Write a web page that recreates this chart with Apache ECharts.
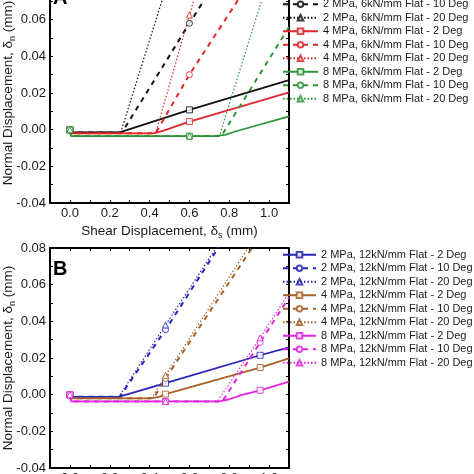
<!DOCTYPE html>
<html>
<head>
<meta charset="utf-8">
<script src="https://cdn.jsdelivr.net/npm/echarts@6/dist/echarts.min.js"></script>
<style>
  html, body { margin: 0; padding: 0; background: #fff; }
  #chart { width: 474px; height: 474px; }
</style>
</head>
<body>
<div id="chart"></div>
<script>
// tick values / labels
const xLabelVals = [0, 0.2, 0.4, 0.6, 0.8, 1.0]
const xTickVals = [0, 0.1, 0.2, 0.3, 0.4, 0.5, 0.6, 0.7, 0.8, 0.9, 1.0]
const yLabelVals = [-0.04, -0.02, 0, 0.02, 0.04, 0.06, 0.08]
const yTickVals = [-0.04, -0.03, -0.02, -0.01, 0, 0.01, 0.02, 0.03, 0.04, 0.05, 0.06, 0.07, 0.08]

// where the open markers sit (shear displacement, mm)
const markXA = [0, 0.6]
const markXB = [0, 0.48, 0.955]

// panel A : 6 kN/mm
const namesA = [
  '2 MPa, 6kN/mm Flat - 2 Deg', '2 MPa, 6kN/mm Flat - 10 Deg', '2 MPa, 6kN/mm Flat - 20 Deg',
  '4 MPa, 6kN/mm Flat - 2 Deg', '4 MPa, 6kN/mm Flat - 10 Deg', '4 MPa, 6kN/mm Flat - 20 Deg',
  '8 MPa, 6kN/mm Flat - 2 Deg', '8 MPa, 6kN/mm Flat - 10 Deg', '8 MPa, 6kN/mm Flat - 20 Deg'
]
const a2_2 = [[0, 0], [0.005, -0.0015], [0.25, -0.0015], [0.6, 0.0108], [1.1, 0.027]]
const a2_10 = [[0, 0], [0.005, -0.0015], [0.26, -0.0015], [0.27, 0.0], [0.6, 0.058], [0.728, 0.08]]
const a2_20 = [[0, 0], [0.005, -0.0015], [0.255, -0.0015], [0.49, 0.08]]
const a4_2 = [[0, 0], [0.005, -0.002], [0.42, -0.002], [0.47, -0.0005], [0.6, 0.0044], [1.1, 0.0204]]
const a4_10 = [[0, 0], [0.005, -0.002], [0.43, -0.002], [0.6, 0.030], [0.9, 0.08]]
const a4_20 = [[0, 0], [0.005, -0.002], [0.43, -0.002], [0.6, 0.0625], [0.647, 0.08]]
const a8_2 = [[0, 0], [0.005, -0.0035], [0.6, -0.0035], [0.72, -0.0035], [0.78, -0.0028], [0.83, -0.001], [1.1, 0.0072]]
const a8_10 = [[0, 0], [0.005, -0.0035], [0.6, -0.0035], [0.76, -0.0035], [1.1, 0.056]]
const a8_20 = [[0, 0], [0.005, -0.0035], [0.6, -0.0035], [0.75, -0.0035], [0.99, 0.08]]

// panel B : 12 kN/mm
const namesB = [
  '2 MPa, 12kN/mm Flat - 2 Deg', '2 MPa, 12kN/mm Flat - 10 Deg', '2 MPa, 12kN/mm Flat - 20 Deg',
  '4 MPa, 12kN/mm Flat - 2 Deg', '4 MPa, 12kN/mm Flat - 10 Deg', '4 MPa, 12kN/mm Flat - 20 Deg',
  '8 MPa, 12kN/mm Flat - 2 Deg', '8 MPa, 12kN/mm Flat - 10 Deg', '8 MPa, 12kN/mm Flat - 20 Deg'
]
const b2_2 = [[0, 0], [0.005, -0.0012], [0.245, -0.0012], [0.48, 0.0063], [0.955, 0.0215], [1.1, 0.0258]]
const b2_10 = [[0, 0], [0.005, -0.0012], [0.25, -0.0012], [0.48, 0.0354], [0.75, 0.081]]
const b2_20 = [[0, 0], [0.005, -0.0012], [0.245, -0.0012], [0.48, 0.038], [0.74, 0.081]]
const b4_2 = [[0, 0], [0.005, -0.002], [0.4, -0.002], [0.45, -0.0012], [0.48, 0.0003], [0.955, 0.0148], [1.1, 0.0198]]
const b4_10 = [[0, 0], [0.005, -0.002], [0.42, -0.002], [0.48, 0.0088], [0.92, 0.081]]
const b4_20 = [[0, 0], [0.005, -0.002], [0.41, -0.002], [0.48, 0.0105], [0.9, 0.081]]
const b8_2 = [[0, 0], [0.005, -0.0037], [0.48, -0.0037], [0.75, -0.0037], [0.8, -0.0025], [0.86, -0.0003], [0.955, 0.0024], [1.1, 0.0071]]
const b8_10 = [[0, 0], [0.005, -0.0037], [0.48, -0.0037], [0.765, -0.0037], [0.955, 0.0285], [1.1, 0.053]]
const b8_20 = [[0, 0], [0.005, -0.0037], [0.48, -0.0037], [0.74, -0.0037], [0.955, 0.031], [1.1, 0.0555]]

const dataA = [a2_2, a2_10, a2_20, a4_2, a4_10, a4_20, a8_2, a8_10, a8_20]
const dataB = [b2_2, b2_10, b2_20, b4_2, b4_10, b4_20, b8_2, b8_10, b8_20]
const colorsA = ['#111111', '#e3262b', '#2e9636']
const colorsB = ['#2626b8', '#a8602a', '#e225e0']
const symbols = ['rect', 'circle', 'triangle']

const font = 'Arial, "Liberation Sans", sans-serif'

const chart = echarts.init(document.getElementById('chart'))

function makeSeries (names, datas, colors, marks, gi) {
  return datas.map(function (d, i) {
    const c = colors[Math.floor(i / 3)]
    const k = i % 3
    let ls
    if (k === 0) ls = { color: c, width: 1.8, type: 'solid' }
    else if (k === 1) ls = { color: c, width: 2, type: [5, 5] }
    else ls = { color: c, width: 1.2, type: [1.5, 2] }
    return {
      name: names[i],
      type: 'line',
      xAxisIndex: gi * 2,
      yAxisIndex: gi * 2,
      data: d,
      symbol: symbols[k],
      symbolSize: function (v) {
        return marks.indexOf(v[0]) >= 0 ? 6 : 0
      },
      itemStyle: { color: '#ffffff', borderColor: c, borderWidth: 1, opacity: 0.85 },
      lineStyle: ls,
      emphasis: { disabled: true },
      animation: false
    }
  })
}

const axisLine = { onZero: false, lineStyle: { color: '#000', width: 2 } }

function xAxes (gi, withName) {
  return [
    {
      type: 'value', gridIndex: gi, position: 'bottom', min: -0.1, max: 1.1,
      axisLine: axisLine,
      axisTick: { inside: true, length: 3, customValues: xTickVals, lineStyle: { color: '#000' } },
      axisLabel: {
        customValues: xLabelVals, margin: 4, fontSize: 13, color: '#1a1a1a', fontFamily: font,
        formatter: function (v) { return v.toFixed(1) }
      },
      splitLine: { show: false },
      name: withName ? '{a|Shear Displacement, δ}{s|s}{a| (mm)}' : '',
      nameLocation: 'middle',
      nameGap: 20,
      nameTextStyle: {
        rich: {
          a: { fontSize: 13.5, color: '#1a1a1a', fontFamily: font },
          s: { fontSize: 9, color: '#1a1a1a', fontFamily: font, padding: [8, 0, 0, 0] }
        }
      }
    },
    {
      type: 'value', gridIndex: gi, position: 'top', min: -0.1, max: 1.1,
      axisLine: axisLine,
      axisTick: { inside: true, length: 3, customValues: xTickVals, lineStyle: { color: '#000' } },
      axisLabel: { show: false },
      splitLine: { show: false }
    }
  ]
}

function yAxes (gi) {
  return [
    {
      type: 'value', gridIndex: gi, position: 'left', min: -0.04, max: 0.08,
      axisLine: axisLine,
      axisTick: { inside: true, length: 3, customValues: yTickVals, lineStyle: { color: '#000' } },
      axisLabel: {
        customValues: yLabelVals, margin: 4, fontSize: 13, color: '#1a1a1a', fontFamily: font,
        formatter: function (v) { return v.toFixed(2) }
      },
      splitLine: { show: false },
      name: '{a|Normal Displacement, δ}{s|n}{a| (mm)}',
      nameLocation: 'middle',
      nameGap: 33,
      nameMoveOverlap: false,
      nameTextStyle: {
        rich: {
          a: { fontSize: 13.5, color: '#1a1a1a', fontFamily: font },
          s: { fontSize: 9, color: '#1a1a1a', fontFamily: font, padding: [8, 0, 0, 0] }
        }
      }
    },
    {
      type: 'value', gridIndex: gi, position: 'right', min: -0.04, max: 0.08,
      axisLine: axisLine,
      axisTick: { inside: true, length: 3, customValues: yTickVals, lineStyle: { color: '#000' } },
      axisLabel: { show: false },
      splitLine: { show: false }
    }
  ]
}

function legend (names, top, iw) {
  return {
    data: names,
    orient: 'vertical',
    left: 282,
    top: top,
    padding: 0,
    itemWidth: iw,
    itemHeight: 7,
    itemGap: 0,
    textStyle: { fontSize: 11, lineHeight: 13.5, color: '#1a1a1a', fontFamily: font }
  }
}

const option = {
  backgroundColor: '#ffffff',
  animation: false,
  grid: [
    { left: 50, top: -17, width: 239, height: 220, outerBoundsMode: 'none' },
    { left: 50, top: 248, width: 239, height: 220, outerBoundsMode: 'none' }
  ],
  xAxis: xAxes(0, true).concat(xAxes(1, false)),
  yAxis: yAxes(0).concat(yAxes(1)),
  legend: [legend(namesA, -16, 35), legend(namesB, 248, 33)],
  graphic: [
    { type: 'text', left: 53, top: -12, style: { text: 'A', font: 'bold 20px Arial, "Liberation Sans", sans-serif', fill: '#000' } },
    { type: 'text', left: 53, top: 259, style: { text: 'B', font: 'bold 20px Arial, "Liberation Sans", sans-serif', fill: '#000' } }
  ],
  series: makeSeries(namesA, dataA, colorsA, markXA, 0).concat(makeSeries(namesB, dataB, colorsB, markXB, 1))
}

chart.setOption(option)
window.addEventListener('resize', function () {
  chart.resize()
})
</script>
</body>
</html>
